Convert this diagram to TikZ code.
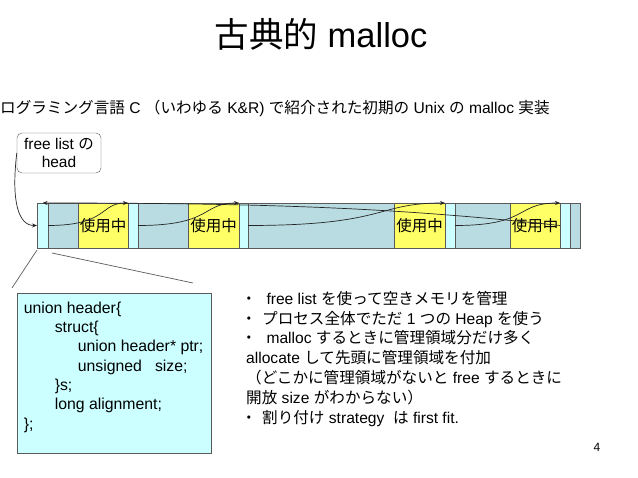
\documentclass[tikz,border=0pt]{standalone}
\usepackage{fontspec}
\setmainfont{Liberation Sans}
\newfontfamily\jp{Noto Sans CJK JP}
\usepackage{tikz}
\usetikzlibrary{positioning, arrows.meta, calc}

\definecolor{hdrcyan}{RGB}{204,255,255}
\definecolor{freeblue}{RGB}{184,220,226}
\definecolor{usedyellow}{RGB}{255,255,102}
\definecolor{edgegrey}{RGB}{90,90,90}
\newcommand{\bul}{\makebox[16pt][l]{\kern-5pt\jp ・}}

\begin{document}
\begin{tikzpicture}[
  x=1pt, y=-1pt,
  font=\fontsize{15.5}{20}\selectfont,
  blk/.style={draw=edgegrey, line width=0.8pt, minimum height=45pt, inner sep=0pt, outer sep=0pt},
  hdr/.style={blk, fill=hdrcyan},
  freeblk/.style={blk, fill=freeblue},
  usedblk/.style={blk, fill=usedyellow},
  ptrarr/.style={-{Stealth[length=5pt, width=4pt]}, line width=0.7pt, draw=black!85},
  headbox/.style={draw=edgegrey, rounded corners=5pt, fill=white, align=center, inner sep=0pt, minimum width=84pt, minimum height=40pt, font=\fontsize{15.5}{18}\selectfont},
  structbox/.style={draw=edgegrey, line width=0.8pt, fill=hdrcyan, minimum width=194pt, minimum height=160pt, inner sep=0pt},
  codetxt/.style={align=left, inner sep=0pt, font=\fontsize{15.8}{19.3}\selectfont},
  note/.style={align=left, inner sep=0pt, font=\fontsize{15.6}{19.8}\selectfont},
  zoomln/.style={draw=edgegrey, line width=0.7pt}
]
\useasboundingbox (0,0) rectangle (638,478);

% title
\node (title) at (321,34) {\fontsize{34.5}{40}\selectfont{\jp 古典的} malloc};
\node[anchor=west, inner sep=0pt] (sub) at (0,108) {\fontsize{15.6}{20}\selectfont{\jp ログラミング言語} C {\jp （いわゆる} K\&R) {\jp で紹介された初期の} Unix {\jp の} malloc {\jp 実装}};

% heap strip
\node[hdr, minimum width=11pt] (h1) at (42.5,225.5) {};
\node[freeblk, minimum width=30pt, right=0pt of h1] (f1) {};
\node[usedblk, minimum width=50pt, right=0pt of f1] (u1) {\jp 使用中};
\node[hdr, minimum width=10pt, right=0pt of u1] (h2) {};
\node[freeblk, minimum width=50pt, right=0pt of h2] (f2) {};
\node[usedblk, minimum width=51pt, right=0pt of f2] (u2) {\jp 使用中};
\node[hdr, minimum width=9pt, right=0pt of u2] (h3) {};
\node[freeblk, minimum width=146pt, right=0pt of h3] (f3) {};
\node[usedblk, minimum width=51pt, right=0pt of f3] (u3) {\jp 使用中};
\node[hdr, minimum width=10pt, right=0pt of u3] (h4) {};
\node[freeblk, minimum width=55pt, right=0pt of h4] (f4) {};
\node[usedblk, minimum width=50pt, right=0pt of f4] (u4) {\jp 使用中};
\node[hdr, minimum width=10pt, right=0pt of u4] (h5) {};
\node[freeblk, minimum width=10pt, right=0pt of h5] (f5) {};

% free list pointers
\draw[ptrarr] (h1.east) .. controls +(60,0) and +(-28,0) .. (h2.north west);
\draw[ptrarr] (h2.east) .. controls +(75,0) and +(-38,0) .. (h3.north west);
\draw[ptrarr] (h3.east) .. controls +(140,0) and +(-70,0) .. (h4.north west);
\draw[ptrarr] (h4.east) .. controls +(75,0) and +(-45,0) .. (h5.north west);
\draw[ptrarr] (h5.west) .. controls +(-150,-16) and +(250,0) .. (h1.north);

% head of list
\node[headbox] (head) at (59,153) {free list {\jp の}\\head};
\draw[ptrarr] (head.west) .. controls +(-6,50) and +(-18,0) .. (h1.west);

% header detail
\coordinate (zla) at (12,288);
\coordinate (zlb) at (193,283);
\draw[zoomln] ($(h1.south west)+(0,2)$) -- (zla);
\draw[zoomln] ($(f1.south west)+(4,5)$) -- (zlb);
\node[structbox] (sbox) at (114,373) {};
\node[codetxt, anchor=north west] (code) at ($(sbox.north west)+(7,9)$) {union header\{\\
\hspace*{31pt}struct\{\\
\hspace*{54pt}union header* ptr;\\
\hspace*{54pt}unsigned\ \ \ size;\\
\hspace*{31pt}\}s;\\
\hspace*{31pt}long alignment;\\
\};};

% notes
\node[note, anchor=north west] (notes) at (246,291) {\bul\ free list {\jp を使って空きメモリを管理}\\
\bul{\jp プロセス全体でただ} 1 {\jp つの} Heap {\jp を使う}\\
\bul\ malloc {\jp するときに管理領域分だけ多く}\\
allocate {\jp して先頭に管理領域を付加}\\
{\jp （どこかに管理領域がないと} free {\jp するときに}\\
{\jp 開放} size {\jp がわからない）}\\
\bul{\jp 割り付け} strategy\ \ {\jp は} first fit.};

\node (pgnum) at (597,447) {\fontsize{12}{14}\selectfont 4};
\end{tikzpicture}
\end{document}
